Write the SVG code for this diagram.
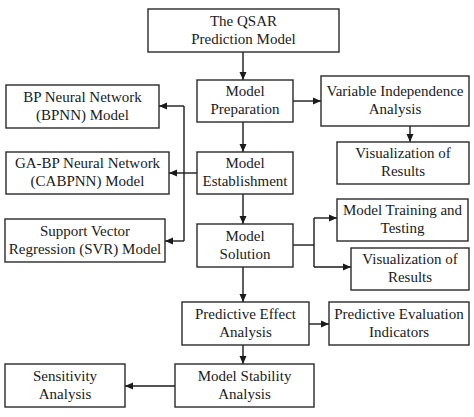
<svg xmlns="http://www.w3.org/2000/svg" width="474" height="417" viewBox="0 0 474 417">
<defs>
<marker id="ah" viewBox="0 0 8 8" refX="8" refY="4" markerWidth="8" markerHeight="8" markerUnits="userSpaceOnUse" orient="auto">
<path d="M0,0.5 L8,4 L0,7.5 Z" fill="#1a1a1a"/>
</marker>
<style>
.box{fill:#fff;stroke:#2a2a2a;stroke-width:1.4}
.t{font-family:"Liberation Serif","Times New Roman",serif;font-size:15px;fill:#1a1a1a;text-anchor:middle}
.c{fill:none;stroke:#1a1a1a;stroke-width:1.4}
</style>
</defs>
<rect width="474" height="417" fill="#fff"/>
<g id="connectors">
<line class="c" x1="243" y1="52" x2="243" y2="80" marker-end="url(#ah)"/>
<line class="c" x1="243" y1="122" x2="243" y2="152" marker-end="url(#ah)"/>
<line class="c" x1="243" y1="194" x2="243" y2="224" marker-end="url(#ah)"/>
<line class="c" x1="243" y1="267" x2="243" y2="302" marker-end="url(#ah)"/>
<line class="c" x1="243" y1="345" x2="243" y2="364" marker-end="url(#ah)"/>
<line class="c" x1="293" y1="101" x2="321" y2="101" marker-end="url(#ah)"/>
<line class="c" x1="410" y1="126" x2="410" y2="142" marker-end="url(#ah)"/>
<line class="c" x1="197" y1="173" x2="169" y2="173" marker-end="url(#ah)"/>
<line class="c" x1="184" y1="106" x2="184" y2="241"/>
<line class="c" x1="184" y1="106" x2="159" y2="106" marker-end="url(#ah)"/>
<line class="c" x1="184" y1="241" x2="165" y2="241" marker-end="url(#ah)"/>
<line class="c" x1="293" y1="245" x2="314" y2="245"/>
<line class="c" x1="314" y1="218" x2="314" y2="267"/>
<line class="c" x1="314" y1="218" x2="337" y2="218" marker-end="url(#ah)"/>
<line class="c" x1="314" y1="267" x2="351" y2="267" marker-end="url(#ah)"/>
<line class="c" x1="309" y1="324" x2="329" y2="324" marker-end="url(#ah)"/>
<line class="c" x1="175" y1="386" x2="125" y2="386" marker-end="url(#ah)"/>
</g>
<g id="qsar"><rect class="box" x="148" y="9" width="191" height="43"/><text class="t" x="243.5" y="25.5">The QSAR</text><text class="t" x="243.5" y="43.5">Prediction Model</text></g>
<g id="prep"><rect class="box" x="197" y="80" width="96" height="42"/><text class="t" x="245" y="96">Model</text><text class="t" x="245" y="114">Preparation</text></g>
<g id="via"><rect class="box" x="321" y="76" width="148" height="50"/><text class="t" x="395" y="96">Variable Independence</text><text class="t" x="395" y="114">Analysis</text></g>
<g id="vor1"><rect class="box" x="337" y="142" width="132" height="42"/><text class="t" x="403" y="158">Visualization of</text><text class="t" x="403" y="176">Results</text></g>
<g id="estab"><rect class="box" x="197" y="152" width="96" height="42"/><text class="t" x="245" y="168">Model</text><text class="t" x="245" y="186">Establishment</text></g>
<g id="bp"><rect class="box" x="6" y="85" width="153" height="43"/><text class="t" x="82.5" y="101.5">BP Neural Network</text><text class="t" x="82.5" y="119.5">(BPNN) Model</text></g>
<g id="gabp"><rect class="box" x="6" y="152" width="163" height="42"/><text class="t" x="87.5" y="168">GA-BP Neural Network</text><text class="t" x="87.5" y="186">(CABPNN) Model</text></g>
<g id="svr"><rect class="box" x="5" y="219" width="160" height="43"/><text class="t" x="85" y="235.5">Support Vector</text><text class="t" x="85" y="253.5">Regression (SVR) Model</text></g>
<g id="sol"><rect class="box" x="197" y="224" width="96" height="43"/><text class="t" x="245" y="240.5">Model</text><text class="t" x="245" y="258.5">Solution</text></g>
<g id="mtt"><rect class="box" x="337" y="199" width="131" height="42"/><text class="t" x="402.5" y="215">Model Training and</text><text class="t" x="402.5" y="233">Testing</text></g>
<g id="vor2"><rect class="box" x="351" y="248" width="118" height="42"/><text class="t" x="410" y="264">Visualization of</text><text class="t" x="410" y="282">Results</text></g>
<g id="pea"><rect class="box" x="182" y="302" width="127" height="43"/><text class="t" x="245.5" y="318.5">Predictive Effect</text><text class="t" x="245.5" y="336.5">Analysis</text></g>
<g id="pei"><rect class="box" x="329" y="302" width="140" height="43"/><text class="t" x="399" y="318.5">Predictive Evaluation</text><text class="t" x="399" y="336.5">Indicators</text></g>
<g id="msa"><rect class="box" x="175" y="364" width="139" height="43"/><text class="t" x="244.5" y="380.5">Model Stability</text><text class="t" x="244.5" y="398.5">Analysis</text></g>
<g id="sens"><rect class="box" x="5" y="364" width="120" height="43"/><text class="t" x="65" y="380.5">Sensitivity</text><text class="t" x="65" y="398.5">Analysis</text></g>
</svg>
